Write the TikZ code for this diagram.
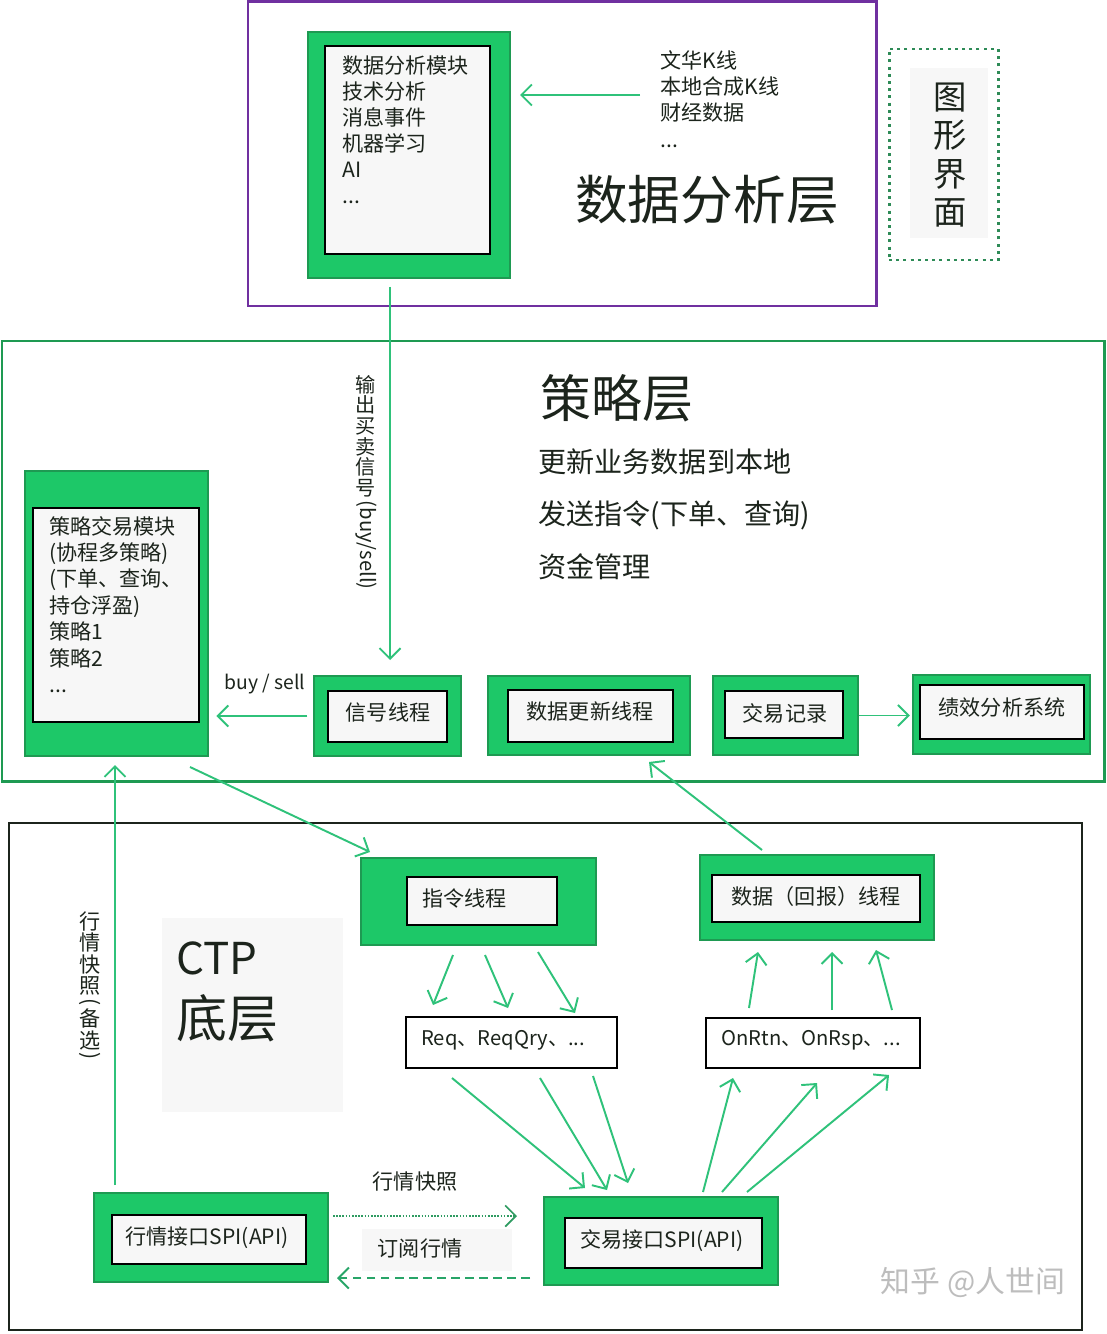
\documentclass[tikz,border=0pt]{standalone}
\usepackage{fontspec}
\usepackage{graphicx}
\setmainfont{Noto Sans CJK SC}
\usetikzlibrary{arrows.meta,fit}
\definecolor{gfill}{HTML}{1DC868}
\definecolor{gborder}{HTML}{1E9A52}
\definecolor{acol}{HTML}{2FC27A}
\definecolor{purp}{HTML}{7030A0}
\definecolor{ibg}{HTML}{F7F7F7}
\definecolor{tcol}{HTML}{1C241C}
\definecolor{dotg}{HTML}{2E8B57}
\definecolor{wmark}{HTML}{BDBDBD}
\newcommand\fsz[2]{\fontsize{#1pt}{#2pt}\selectfont}
\newcommand\vparen[1]{\rotatebox[origin=c]{-90}{#1}}
\tikzset{
  obox/.style={draw=gborder, fill=gfill, line width=1.6pt, inner sep=0pt},
  ibox/.style={draw=black, fill=ibg, line width=1.1pt, inner sep=0pt},
  wbox/.style={draw=black, fill=white, line width=1.1pt, inner sep=0pt},
  plainbg/.style={fill=ibg, inner sep=0pt},
  lbl/.style={text=tcol, inner sep=0pt},
  arr/.style={draw=acol, line width=1.1pt, -{Straight Barb[length=6pt,width=12pt]}},
}
\begin{document}
\begin{tikzpicture}[x=0.02cm, y=-0.02cm]
\useasboundingbox (0,0) rectangle (1106,1334);
\fill[white] (0,0) rectangle (1106,1334);

% ---------------- data analysis layer
\node[draw=purp, line width=1.7pt, inner sep=0pt, fit={(248,2) (876,306)}] (dal) {};
\node[obox, fit={(308,32) (510,278)}] (dao) {};
\node[ibox, fit={(325,46) (490,254)}] (dai) {};
\node[lbl, anchor=north west, align=left, font=\fsz{12}{14.8}] (dait) at (342,55) {数据分析模块\\技术分析\\消息事件\\机器学习\\AI\\...};
\node[lbl, anchor=north west, align=left, font=\fsz{12}{15}] (src) at (660,50) {文华K线\\本地合成K线\\财经数据\\...};
\node[lbl, font=\fsz{30}{36}] (dalt) at (707,200) {数据分析层};

% GUI
\node[draw=dotg, line width=1.7pt, dash pattern=on 1.7pt off 2.4pt, inner sep=0pt, fit={(889,49) (998,260)}] (guio) {};
\node[plainbg, fit={(910,68) (988,238)}] (guii) {};
\node[lbl, align=center, font=\fsz{19}{21.8}] (guit) at (950,155) {图\\形\\界\\面};

% ---------------- strategy layer
\node[draw=gborder, line width=1.7pt, inner sep=0pt, fit={(2,341) (1104,781)}] (sl) {};
\node[lbl, font=\fsz{29}{34}] (slt) at (617,398) {策略层};
\node[lbl, anchor=west, font=\fsz{16}{19}] (sl1) at (538,462) {更新业务数据到本地};
\node[lbl, anchor=west, font=\fsz{16}{19}] (sl2) at (538,515) {发送指令(下单、查询)};
\node[lbl, anchor=west, font=\fsz{16}{19}] (sl3) at (538,567) {资金管理};

\node[obox, fit={(25,471) (208,756)}] (smo) {};
\node[ibox, fit={(33,508) (199,722)}] (smi) {};
\node[lbl, anchor=north west, align=left, font=\fsz{12}{15}] (smt) at (49,516) {策略交易模块\\(协程多策略)\\(下单、查询、\\持仓浮盈)\\策略1\\策略2\\...};

\node[obox, fit={(314,676) (461,756)}] (sigo) {};
\node[ibox, fit={(328,691) (447,742)}] (sigi) {};
\node[lbl, font=\fsz{12}{14}] (sigt) at (388,712) {信号线程};

\node[obox, fit={(488,676) (690,755)}] (duo) {};
\node[ibox, fit={(508,690) (673,742)}] (dui) {};
\node[lbl, font=\fsz{12}{14}] (dut) at (590,711) {数据更新线程};

\node[obox, fit={(713,676) (858,755)}] (tro) {};
\node[ibox, fit={(725,691) (843,738)}] (tri) {};
\node[lbl, font=\fsz{12}{14}] (trt) at (785,713) {交易记录};

\node[obox, fit={(913,675) (1090,754)}] (pfo) {};
\node[ibox, fit={(920,685) (1084,739)}] (pfi) {};
\node[lbl, font=\fsz{12}{14}] (pft) at (1002,707) {绩效分析系统};

\node[lbl, font=\fsz{11}{13}] (bs) at (265,684) {buy / sell};

\node[lbl, align=center, font=\fsz{11.5}{11.7}, anchor=north] (sigv) at (366,375) {输\\出\\买\\卖\\信\\号};
\node[lbl, rotate=-90, anchor=west, font=\fsz{11.5}{14}] (sigv2) at ([yshift=-2pt]sigv.south) {(buy/sell)};

% ---------------- CTP layer
\node[draw=tcol, line width=1.1pt, inner sep=0pt, fit={(9,823) (1082,1330)}] (ctp) {};
\node[plainbg, fit={(162,918) (343,1112)}] (ctpbg) {};
\node[lbl, anchor=west, font=\fsz{25}{30}] (ctpt1) at (176,958) {CTP};
\node[lbl, anchor=west, font=\fsz{29}{34}] (ctpt2) at (176,1018) {底层};

\node[obox, fit={(361,858) (596,945)}] (cmdo) {};
\node[ibox, fit={(407,877) (557,925)}] (cmdi) {};
\node[lbl, anchor=west, font=\fsz{12}{14}] (cmdt) at (422,898) {指令线程};

\node[obox, fit={(700,855) (934,940)}] (dro) {};
\node[ibox, fit={(712,875) (920,922)}] (dri) {};
\node[lbl, font=\fsz{12}{14}] (drt) at (816,896) {数据（回报）线程};

\node[wbox, fit={(406,1017) (617,1068)}] (req) {};
\node[lbl, anchor=west, font=\fsz{11.5}{14}] (reqt) at (421,1040) {Req、ReqQry、...};
\node[wbox, fit={(706,1018) (920,1068)}] (onr) {};
\node[lbl, anchor=west, font=\fsz{11.5}{14}] (onrt) at (721,1040) {OnRtn、OnRsp、...};

\node[obox, fit={(94,1193) (328,1282)}] (mso) {};
\node[ibox, fit={(112,1215) (306,1264)}] (msi) {};
\node[lbl, font=\fsz{12}{14}] (mst) at (207,1238) {行情接口SPI(API)};

\node[obox, fit={(544,1197) (778,1285)}] (tso) {};
\node[ibox, fit={(565,1218) (762,1268)}] (tsi) {};
\node[lbl, font=\fsz{12}{14}] (tst) at (662,1241) {交易接口SPI(API)};

\node[lbl, font=\fsz{12}{14}] (snap) at (415,1182) {行情快照};
\node[plainbg, fit={(362,1229) (512,1271)}] (subbg) {};
\node[lbl, font=\fsz{12}{14}] (subt) at (420,1248) {订阅行情};

\node[lbl, align=center, font=\fsz{12}{12.3}, anchor=north] (mkv) at (90,911) {行\\情\\快\\照\\[-4pt]\vparen{(}\\[-2pt]备\\选\\[-4pt]\vparen{)}};

\node[text=wmark, inner sep=0pt, font=\fsz{17}{20}] (wm) at (973,1283) {知乎 @人世间};

% ---------------- connectors
\coordinate (a1s) at (640,95);  \coordinate (a1e) at (520,95);
\draw[arr] (a1s) -- (a1e);
\coordinate (a2s) at (390,287); \coordinate (a2e) at (390,660);
\draw[arr] (a2s) -- (a2e);
\draw[arr, shorten <=3pt, shorten >=4pt] (sigo.west) -- (sigo.west -| smo.east);
\draw[arr, shorten >=1pt] (tro.east) -- (tro.east -| pfo.west);
\coordinate (a5s) at (190,767); \coordinate (a5e) at (370,852);
\draw[arr] (a5s) -- (a5e);
\coordinate (a6s) at (762,850); \coordinate (a6e) at (649,762);
\draw[arr] (a6s) -- (a6e);

\coordinate (c1s) at (453,955); \coordinate (c1e) at (433,1005);
\coordinate (c2s) at (485,955); \coordinate (c2e) at (508,1008);
\coordinate (c3s) at (538,952); \coordinate (c3e) at (575,1013);
\draw[arr] (c1s) -- (c1e);
\draw[arr] (c2s) -- (c2e);
\draw[arr] (c3s) -- (c3e);

\coordinate (d1s) at (749,1008); \coordinate (d1e) at (758,952);
\coordinate (d2s) at (832,1010); \coordinate (d2e) at (832,952);
\coordinate (d3s) at (892,1010); \coordinate (d3e) at (876,950);
\draw[arr] (d1s) -- (d1e);
\draw[arr] (d2s) -- (d2e);
\draw[arr] (d3s) -- (d3e);

\coordinate (e1s) at (452,1078); \coordinate (e1e) at (585,1188);
\coordinate (e2s) at (540,1078); \coordinate (e2e) at (607,1190);
\coordinate (e3s) at (593,1076); \coordinate (e3e) at (628,1183);
\draw[arr] (e1s) -- (e1e);
\draw[arr] (e2s) -- (e2e);
\draw[arr] (e3s) -- (e3e);

\coordinate (f1s) at (703,1192); \coordinate (f1e) at (733,1078);
\coordinate (f2s) at (722,1192); \coordinate (f2e) at (817,1083);
\coordinate (f3s) at (747,1192); \coordinate (f3e) at (889,1075);
\draw[arr] (f1s) -- (f1e);
\draw[arr] (f2s) -- (f2e);
\draw[arr] (f3s) -- (f3e);

\coordinate (hs) at (333,1216); \coordinate (he) at (517,1216);
\draw[draw=dotg!70!acol, line width=1pt, dash pattern=on 0.9pt off 0.9pt, -{Straight Barb[length=6pt,width=12pt]}] (hs) -- (he);
\coordinate (js) at (530,1278); \coordinate (je) at (337,1278);
\draw[draw=acol!85!black, line width=1.1pt, dash pattern=on 5pt off 3pt, -{Straight Barb[length=6pt,width=12pt]}] (js) -- (je);
\coordinate (gs) at (115,1185); \coordinate (ge) at (115,765);
\draw[arr] (gs) -- (ge);
\end{tikzpicture}
\end{document}
